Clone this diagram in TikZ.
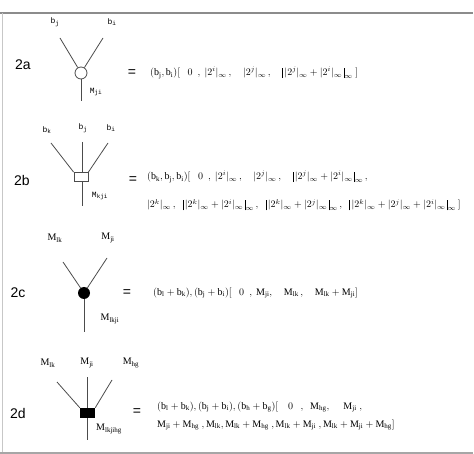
\documentclass[tikz,border=0pt]{standalone}
\usepackage{fontspec}
\setmainfont{Liberation Serif}
\newfontfamily\lblfont{Liberation Sans}
\newfontfamily\cour{Liberation Mono}
\newcommand\nb[1]{\mathrm{b}_{\mathrm{#1}}}
\newcommand\NM[1]{\mathrm{M}_{\mathrm{#1}}}
\newcommand\nrm[1]{|2^{#1}|_\infty}
\newcommand\obar{\mathopen{\rule[-2.6pt]{0.45pt}{10.6pt}}\,}
\newcommand\cbar{\,\mathclose{\rule[-2.6pt]{0.45pt}{10.6pt}}_\infty}
\begin{document}
\begin{tikzpicture}[x=1pt,y=-1pt,
  lbl/.style={font=\lblfont\fontsize{14}{16}\selectfont, inner sep=0},
  eqs/.style={font=\lblfont\fontsize{14}{16}\selectfont, inner sep=0},
  formula/.style={font=\fontsize{10}{12}\selectfont, anchor=west, inner sep=0},
  tip/.style={font=\cour\fontsize{8}{9}\selectfont, inner sep=0},
  tipm/.style={font=\fontsize{10}{12}\selectfont, inner sep=0},
  wire/.style={draw=black!70, line width=0.8},
  joint/.style={draw=black!70, line width=0.8, fill=white}]
\useasboundingbox (0,0) rectangle (474,454);
% frame
\draw[black!45, line width=1.5] (0,13) -- (473,13);
\draw[black!22, line width=1] (2.5,13) -- (2.5,453);
\draw[black!35, line width=2] (0,452.5) -- (473,452.5);
% ---------- 2a
\node[lbl] (la) at (23,65) {2a};
\node[tip] (ta1) at (55,22) {b\textsubscript{j}};
\node[tip] (ta2) at (112,22) {b\textsubscript{i}};
\coordinate (a1) at (60,38);
\coordinate (a2) at (103,38);
\coordinate (a3) at (81,101);
\node[joint, circle, minimum size=12, inner sep=0] (ac) at (81,73) {};
\draw[wire] (a1) -- (ac);
\draw[wire] (a2) -- (ac);
\draw[wire] (ac) -- (a3);
\node[tip] (ma) at (96,92) {M\textsubscript{ji}};
\node[eqs] (ea) at (132,73) {=};
\node[formula] (fa) at (150,73) {$(\nb{j},\nb{i})[\ \ \ 0\ \ ,\ \nrm{i}\,,\quad \nrm{j}\,,\quad \obar\nrm{j}+\nrm{i}\cbar\ ]$};
% ---------- 2b
\node[lbl] (lb) at (22,180) {2b};
\node[tip] (tb1) at (47,130) {b\textsubscript{k}};
\node[tip] (tb2) at (83,128) {b\textsubscript{j}};
\node[tip] (tb3) at (111,128) {b\textsubscript{i}};
\coordinate (b1) at (51,143);
\coordinate (b2) at (82,142);
\coordinate (b3) at (108,143);
\coordinate (b4) at (82,206);
\draw[wire] (b2) -- (b4);
\node[joint, rectangle, minimum width=14, minimum height=9, inner sep=0] (bc) at (81,177) {};
\draw[wire] (b1) -- (bc.north west);
\draw[wire] (b3) -- (bc.north east);
\node[tip] (mb) at (100,196) {M\textsubscript{kji}};
\node[eqs] (eb) at (133,180) {=};
\node[formula] (fb1) at (147,177) {$(\nb{k},\nb{j},\nb{i})[\ \ \ 0\ \ ,\ \nrm{i}\,,\quad \nrm{j}\,,\quad \obar\nrm{j}+\nrm{i}\cbar\,,$};
\node[formula] (fb2) at (147,205) {$\nrm{k}\,,\;\; \obar\nrm{k}+\nrm{i}\cbar\,,\;\; \obar\nrm{k}+\nrm{j}\cbar\,,\;\; \obar\nrm{k}+\nrm{j}+\nrm{i}\cbar\,]$};
% ---------- 2c
\node[lbl] (lc) at (18,293) {2c};
\node[tipm] (tc1) at (55,238) {$\NM{lk}$};
\node[tipm] (tc2) at (108,238) {$\NM{ji}$};
\coordinate (c1) at (63,262);
\coordinate (c2) at (107,258);
\coordinate (c3) at (84,332);
\node[circle, fill=black, minimum size=12, inner sep=0] (cc) at (84,293) {};
\draw[wire] (c1) -- (cc);
\draw[wire] (c2) -- (cc);
\draw[wire] (cc) -- (c3);
\node[tipm] (mc) at (110,319) {$\NM{lkji}$};
\node[eqs] (ec) at (127,293) {=};
\node[formula] (fc) at (153,293) {$(\nb{l}+\nb{k}),(\nb{j}+\nb{i})[\ \ \ 0\ \ ,\ \NM{ji},\quad \NM{lk}\,,\quad \NM{lk}+\NM{ji}]$};
% ---------- 2d
\node[lbl] (ld) at (18,413) {2d};
\node[tipm] (td1) at (48,363) {$\NM{lk}$};
\node[tipm] (td2) at (87,363) {$\NM{ji}$};
\node[tipm] (td3) at (131,363) {$\NM{hg}$};
\coordinate (d1) at (57,382);
\coordinate (d2) at (87,377);
\coordinate (d3) at (112,380);
\coordinate (d4) at (87,440);
\draw[wire] (d2) -- (d4);
\node[rectangle, fill=black, minimum width=15, minimum height=10, inner sep=0] (dc) at (87.5,413) {};
\draw[wire] (d1) -- (dc.north west);
\draw[wire] (d3) -- (dc.north east);
\node[tipm, anchor=west] (md) at (96,429) {$\NM{lkjihg}$};
\node[eqs] (ed) at (137,412) {=};
\node[formula] (fd1) at (157,407) {$(\nb{l}+\nb{k}),(\nb{j}+\nb{i}),(\nb{h}+\nb{g})[\ \ \ \ 0\ \ \ ,\ \ \NM{hg},\quad\ \NM{ji}\ ,$};
\node[formula] (fd2) at (157,425) {$\NM{ji}+\NM{hg}\ ,\NM{lk},\NM{lk}+\NM{hg}\ ,\NM{lk}+\NM{ji}\ ,\NM{lk}+\NM{ji}+\NM{hg}]$};
\end{tikzpicture}
\end{document}
